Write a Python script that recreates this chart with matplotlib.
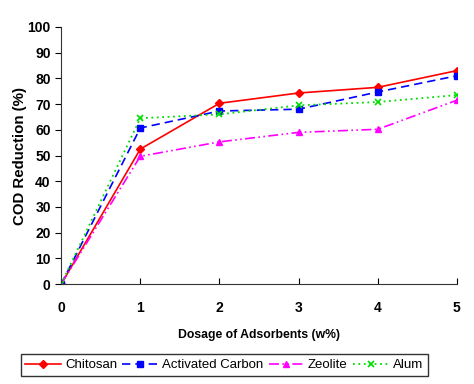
import matplotlib
matplotlib.use("Agg")
import matplotlib.pyplot as plt

plt.rcParams['font.family'] = ['Liberation Sans', 'DejaVu Sans']

dosage = [0, 1, 2, 3, 4, 5]
chitosan = [0, 52.5, 70.3, 74.3, 76.5, 83.0]
activated_carbon = [0, 60.7, 67.3, 68.0, 74.7, 81.0]
zeolite = [0, 49.7, 55.3, 59.0, 60.2, 71.5]
alum = [0, 64.5, 66.0, 69.5, 70.8, 73.5]
labels = ["Chitosan", "Activated Carbon", "Zeolite", "Alum"]

fig = plt.figure(figsize=(4.74, 3.84), dpi=100)
ax = fig.add_axes([0.129, 0.26, 0.835, 0.67])

ax.plot(dosage, chitosan, color='#ff0000', ls='-', lw=1.2, marker='D', ms=4, label=labels[0])
ax.plot(dosage, activated_carbon, color='#0000ff', ls=(0, (5, 3)), lw=1.2, marker='s', ms=4, label=labels[1])
ax.plot(dosage, zeolite, color='#ff00ff', ls=(0, (6, 2, 1, 2, 1, 2)), lw=1.2, marker='^', ms=5, label=labels[2])
ax.plot(dosage, alum, color='#00dd00', ls=(0, (1, 2)), lw=1.3, marker='x', ms=4, mew=1.2, label=labels[3])

ax.set_xlim(0, 5)
ax.set_ylim(0, 100)
ax.set_xticks(dosage)
ax.set_yticks(range(0, 101, 10))
ax.spines['top'].set_visible(False)
ax.spines['right'].set_visible(False)
ax.spines['left'].set_color('#333333')
ax.spines['bottom'].set_color('#333333')
ax.tick_params(axis='x', direction='in', length=4, pad=12, labelsize=10)
ax.tick_params(axis='y', direction='out', length=4, labelsize=10)
for t in ax.get_xticklabels() + ax.get_yticklabels():
    t.set_fontweight('bold')
ax.set_xlabel("Dosage of Adsorbents (w%)", fontweight='bold', fontsize=8.8, labelpad=10)
ax.set_ylabel("COD Reduction (%)", fontweight='bold', fontsize=10.8, labelpad=0)

leg = fig.legend(loc='lower center', bbox_to_anchor=(0.473, 0.004), ncol=4, frameon=True,
                 fancybox=False, edgecolor='black', fontsize=9.5, handlelength=2.7,
                 handletextpad=0.3, columnspacing=0.4, borderpad=0.35)
leg.get_frame().set_linewidth(1.0)

fig.savefig("out.png", dpi=100)
